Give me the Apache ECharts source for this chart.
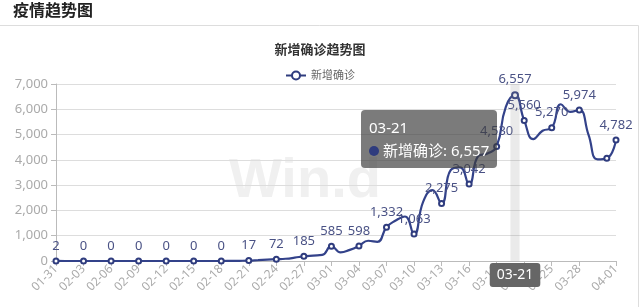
<!DOCTYPE html>
<html lang="zh">
<head>
    <meta charset="utf-8">
    <script src="https://cdn.jsdelivr.net/npm/echarts@6/dist/echarts.min.js"></script>
    <style>
        html, body { margin: 0; padding: 0; background: #fff; }
        #main { width: 640px; height: 307px; }
    </style>
</head>
<body>
<div id="main"></div>
<script>
    // 日期 (2020-01-31 ~ 2020-04-01)
    var dates = [
        '01-31', '02-01', '02-02', '02-03', '02-04', '02-05', '02-06', '02-07', '02-08', '02-09',
        '02-10', '02-11', '02-12', '02-13', '02-14', '02-15', '02-16', '02-17', '02-18', '02-19',
        '02-20', '02-21', '02-22', '02-23', '02-24', '02-25', '02-26', '02-27', '02-28', '02-29',
        '03-01', '03-02', '03-03', '03-04', '03-05', '03-06', '03-07', '03-08', '03-09', '03-10',
        '03-11', '03-12', '03-13', '03-14', '03-15', '03-16', '03-17', '03-18', '03-19', '03-20',
        '03-21', '03-22', '03-23', '03-24', '03-25', '03-26', '03-27', '03-28', '03-29', '03-30',
        '03-31', '04-01'
    ];
    // 新增确诊
    var newCases = [
        2, 0, 0, 0, 0, 0, 0, 0, 0, 0,
        0, 0, 0, 0, 0, 0, 0, 0, 0, 3,
        8, 17, 35, 55, 72, 88, 130, 185, 215, 240,
        585, 340, 440, 598, 800, 760, 1332, 1600, 1760, 1063,
        2350, 2800, 2275, 3600, 3700, 3042, 4150, 4250, 4530, 6100,
        6557, 5560, 4820, 5150, 5270, 6200, 5900, 5974, 5000, 4020,
        4060, 4782
    ];
    var yTicks = [0, 1000, 2000, 3000, 4000, 5000, 6000, 7000];
    var noLabelDates = ['03-31'];
    var tipDate = '03-21';

    var lineColor = '#2f3c7e';
    var fmt = function (v) { return Number(v).toLocaleString('en-US'); };

    var seriesData = newCases.map(function (v, i) {
        if (noLabelDates.indexOf(dates[i]) >= 0) {
            return { value: v, label: { show: false } };
        }
        return v;
    });

    var myChart = echarts.init(document.getElementById('main'));

    myChart.setOption({
        animation: false,
        textStyle: { fontFamily: 'Noto Sans, Noto Sans CJK SC, sans-serif' },
        title: [{
            text: '疫情趋势图',
            left: 8, top: -2,
            textStyle: { fontSize: 16, fontWeight: 'bold', color: '#222' }
        }, {
            text: '新增确诊趋势图',
            left: 'center', top: 39,
            textStyle: { fontSize: 13, fontWeight: 'bold', color: '#333' }
        }],
        legend: {
            top: 65,
            left: 'center',
            itemWidth: 20,
            itemHeight: 10,
            textStyle: { fontSize: 11, color: '#666' },
            data: ['新增确诊']
        },
        graphic: [{
            type: 'text',
            left: 229, top: 154, z: -1,
            style: { text: 'Win.d', fontSize: 56, fontWeight: 'bold', fill: '#f0f0f0',
                fontFamily: 'Liberation Sans, Arial, sans-serif' }
        }, {
            type: 'line',
            shape: { x1: 0, y1: 25.5, x2: 638.5, y2: 25.5 },
            style: { stroke: '#ddd', lineWidth: 1 }
        }, {
            type: 'line',
            shape: { x1: 638.5, y1: 25.5, x2: 638.5, y2: 307 },
            style: { stroke: '#ddd', lineWidth: 1 }
        }],
        tooltip: {
            trigger: 'axis',
            position: [361, 110],
            backgroundColor: 'rgba(60,60,60,0.68)',
            borderWidth: 0,
            borderRadius: 4,
            padding: [6, 8],
            extraCssText: 'box-shadow:none;',
            textStyle: { color: '#fff', fontSize: 15, fontFamily: 'Noto Sans, Noto Sans CJK SC, sans-serif' },
            axisPointer: {
                type: 'shadow',
                shadowStyle: { color: 'rgba(150,150,150,0.2)' },
                label: {
                    show: true,
                    backgroundColor: '#666',
                    color: '#fff',
                    fontSize: 14,
                    padding: [5, 7],
                    margin: 2
                }
            },
            formatter: function (params) {
                var p = params[0];
                return p.axisValue + '<br/>' + p.marker + p.seriesName + ': ' + fmt(p.value);
            }
        },
        grid: { left: 56, right: 24, top: 84, bottom: 46 },
        xAxis: {
            type: 'category',
            boundaryGap: false,
            data: dates,
            axisLine: { lineStyle: { color: '#bbb' } },
            axisTick: { lineStyle: { color: '#bbb' } },
            axisLabel: { rotate: 45, fontSize: 12, color: '#aaa', showMaxLabel: true, margin: 6 }
        },
        yAxis: {
            type: 'value',
            min: yTicks[0],
            max: yTicks[yTicks.length - 1],
            interval: 1000,
            axisLine: { show: true, lineStyle: { color: '#bbb' } },
            axisTick: { show: true, lineStyle: { color: '#bbb' } },
            axisLabel: { fontSize: 13, color: '#aaa', margin: 8 },
            splitLine: { lineStyle: { color: '#ddd' } }
        },
        series: [{
            name: '新增确诊',
            type: 'line',
            smooth: true,
            data: seriesData,
            symbol: 'emptyCircle',
            symbolSize: 5,
            showAllSymbol: false,
            itemStyle: { color: lineColor },
            lineStyle: { color: lineColor, width: 2.2 },
            label: {
                show: true, position: 'top', fontSize: 13, color: '#4a5285',
                formatter: function (p) { return fmt(p.value); }
            }
        }]
    });

    myChart.dispatchAction({
        type: 'showTip',
        seriesIndex: 0,
        dataIndex: dates.indexOf(tipDate)
    });
</script>
</body>
</html>
